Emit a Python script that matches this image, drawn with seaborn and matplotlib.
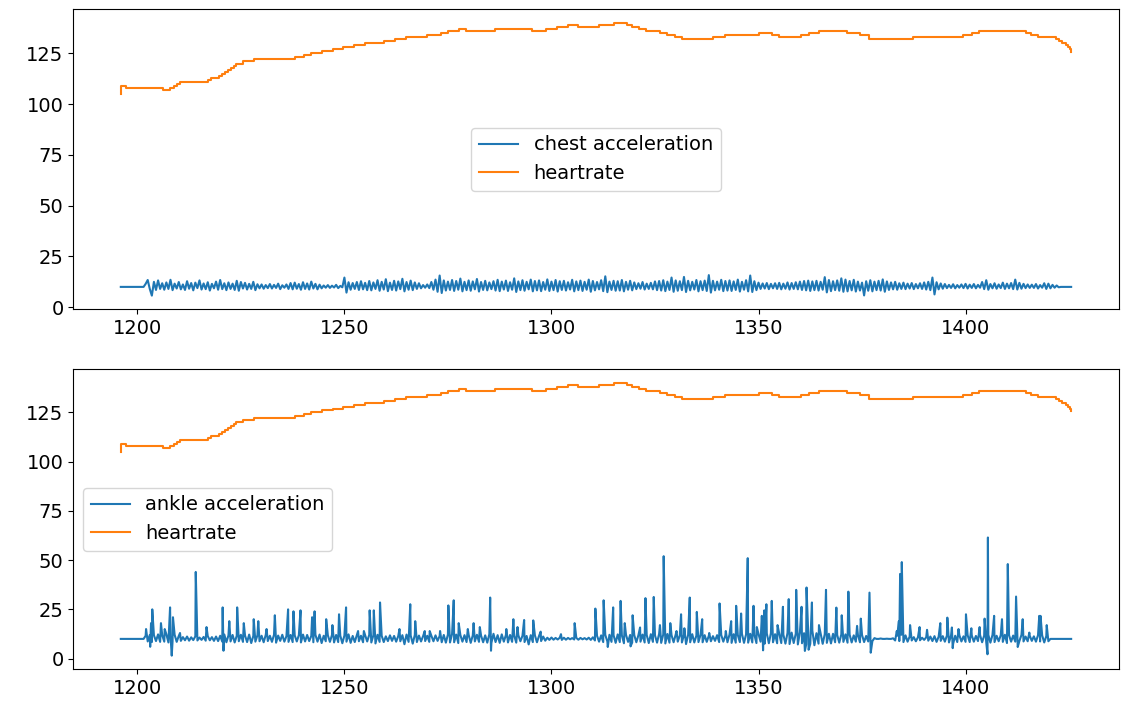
import numpy as np
import pandas as pd
import matplotlib
matplotlib.use("Agg")
import matplotlib.pyplot as plt
import seaborn as sns


# sample grid of the acceleration recordings (one value every 0.5 s)
start_time = 1196.0
sample_step = 0.5

# chest acceleration
chest_acc = [
    10, 10, 10, 10, 10, 10, 10, 10, 10, 10, 10, 10, 11.5, 13.4, 9, 5.7, 12.5, 8.5, 13.2, 9,
    11.8, 8.6, 12.2, 9.0, 13.5, 8.4, 11.6, 9.2, 12.4, 8.8, 11.2, 8.5, 12.8, 9.1, 11.9, 8.3, 12.1, 9.4, 13.2, 8.7,
    11.7, 8.9, 12.3, 8.2, 11.5, 9.3, 12.6, 8.6, 13.4, 8.9, 11.8, 8.4, 12.2, 9.0, 11.6, 8.5, 13.0, 8.1, 12.4, 9.2,
    12.0, 8.7, 11.5, 9.0, 12.5, 8.4, 11.3, 9.3, 11.2, 9.1, 10.9, 9.4, 11.4, 9.2, 11.0, 9.5, 11.6, 8.9, 10.8, 9.6,
    11.2, 9.0, 11.9, 8.8, 12.1, 9.1, 11.4, 8.6, 12.3, 9.0, 11.7, 8.7, 12.6, 9.2, 11.5, 8.8, 11.1, 9.3, 10.7, 9.6,
    10.9, 9.5, 10.6, 9.7, 11.0, 9.4, 10.5, 9.8, 14.6, 7.2, 12.3, 8.6, 11.9, 9.0, 12.4, 8.5, 12.8, 8.8, 12.0, 8.4,
    12.9, 8.3, 12.2, 9.0, 13.3, 8.1, 12.5, 8.7, 13.8, 7.9, 12.1, 8.5, 13.0, 8.2, 12.7, 8.9, 14.0, 7.8, 12.4, 8.6,
    13.1, 8.4, 12.2, 9.0, 11.8, 9.3, 10.9, 9.6, 11.2, 9.4, 12.4, 8.6, 13.6, 7.6, 15.6, 7.0, 13.2, 8.2, 12.6, 8.5,
    13.4, 8.0, 12.9, 8.6, 14.1, 7.8, 12.5, 8.4, 13.2, 8.1, 12.7, 8.8, 13.9, 7.7, 12.4, 8.5, 13.0, 8.3, 12.2, 8.9,
    12.8, 8.2, 13.5, 7.9, 12.6, 8.7, 13.1, 8.0, 12.3, 8.6, 14.2, 7.5, 12.7, 8.4, 13.3, 8.1, 12.5, 8.8, 13.6, 7.8,
    12.9, 8.3, 13.2, 7.9, 12.4, 8.6, 13.7, 8.0, 12.6, 8.4, 13.4, 7.7, 12.8, 8.5, 13.0, 8.2, 12.3, 8.7, 13.5, 7.8,
    12.7, 8.4, 13.1, 8.0, 12.5, 8.6, 13.6, 7.6, 12.9, 8.3, 12.4, 8.8, 13.3, 7.9, 15.2, 7.4, 12.6, 8.5, 13.0, 8.1,
    12.8, 8.2, 13.4, 7.8, 12.5, 8.6, 13.0, 8.3, 12.2, 8.9, 11.8, 9.1, 12.4, 8.7, 11.6, 9.0, 12.0, 8.8, 12.7, 8.4,
    12.9, 8.2, 13.3, 7.9, 12.6, 8.5, 14.6, 7.6, 13.2, 8.1, 12.8, 8.4, 14.9, 7.5, 13.0, 8.3, 12.5, 8.7, 13.4, 7.8,
    12.8, 8.4, 13.1, 8.0, 15.8, 7.2, 13.0, 8.3, 12.6, 8.6, 13.5, 7.9, 12.9, 8.2, 13.2, 8.0, 12.7, 8.5, 13.6, 7.7,
    12.5, 8.6, 13.3, 7.8, 15.6, 7.5, 12.8, 8.4, 12.1, 9.0, 11.7, 9.2, 11.9, 8.9, 11.5, 9.3, 11.8, 9.0, 12.0, 8.8,
    11.6, 9.1, 12.2, 8.7, 11.9, 9.0, 12.3, 8.8, 12.6, 8.5, 12.9, 8.3, 13.1, 8.0, 12.7, 8.4, 13.0, 8.2, 12.5, 8.6,
    14.8, 7.3, 13.4, 7.9, 12.8, 8.4, 13.2, 8.1, 14.2, 7.6, 13.6, 7.8, 12.9, 8.3, 13.5, 7.7, 12.6, 8.2, 12.1, 5.8,
    12.8, 8.1, 13.3, 7.8, 12.6, 8.4, 13.0, 8.2, 13.7, 7.6, 12.7, 8.5, 12.2, 8.8, 12.5, 8.6, 11.8, 9.0, 12.1, 8.9,
    11.6, 9.2, 11.9, 8.9, 11.4, 9.3, 11.8, 9.0, 12.2, 8.7, 12.5, 8.4, 14.6, 6.3, 12.3, 8.8, 11.7, 9.1, 11.4, 9.4,
    11.0, 9.5, 11.3, 9.3, 10.9, 9.6, 11.2, 9.4, 11.5, 9.2, 11.1, 9.5, 11.4, 9.3, 11.0, 9.6, 12.4, 8.9, 13.3, 8.6,
    11.4, 9.3, 11.8, 9.1, 11.2, 9.4, 12.1, 9.0, 11.6, 9.3, 11.9, 8.9, 13.6, 8.7, 12.0, 9.1, 11.5, 9.4, 11.2, 9.5,
    11.1, 9.5, 11.4, 9.2, 10.9, 9.6, 11.8, 9.0, 11.6, 9.3, 11.0, 9.6, 10.7, 9.8, 10, 10, 10, 10, 10, 10,
]

# ankle acceleration: background jitter on the same 0.5 s grid ...
ankle_base = [
    10, 10, 10, 10, 10, 10, 10, 10, 10, 10, 10, 10, 11.6, 8.7, 12.0, 8.4, 11.8, 8.9, 12.3, 8.5,
    11.9, 8.6, 12.4, 8.2, 11.7, 8.8, 12.1, 8.5, 11.5, 9.0, 10.9, 9.3, 11.2, 9.1, 10.8, 9.4, 11.3, 9.2, 10.7, 9.5,
    11.0, 9.1, 11.4, 9.3, 10.9, 9.0, 11.2, 8.9, 11.6, 8.6, 12.2, 8.3, 11.8, 8.7, 12.0, 8.2, 11.6, 8.8, 12.1, 8.5,
    11.7, 8.4, 12.2, 7.9, 11.5, 8.6, 11.9, 8.8, 11.6, 8.3, 12.0, 8.9, 11.6, 8.5, 12.1, 8.1, 11.7, 9.0, 12.1, 8.6,
    11.4, 8.5, 12.0, 8.4, 11.8, 8.7, 11.9, 8.2, 12.2, 8.7, 12.0, 8.9, 11.5, 8.3, 12.1, 8.6, 12.2, 7.9, 11.6, 8.8,
    11.8, 8.5, 12.0, 8.2, 12.0, 8.4, 11.7, 7.8, 11.7, 8.6, 12.3, 8.0, 11.5, 8.4, 11.9, 8.8, 11.6, 8.3, 11.9, 8.7,
    12.1, 8.2, 11.9, 7.7, 12.1, 8.5, 11.6, 8.4, 11.3, 8.9, 11.8, 9.0, 11.5, 8.6, 11.4, 8.8, 11.9, 7.3, 12.2, 8.5,
    11.8, 7.6, 12.0, 8.4, 11.7, 8.7, 11.4, 8.9, 11.6, 8.5, 11.6, 8.8, 11.8, 9.0, 11.5, 8.3, 12.0, 8.1, 12.3, 8.2,
    12.5, 8.3, 12.2, 7.9, 12.0, 8.6, 11.9, 8.4, 12.1, 8.0, 11.8, 8.7, 12.1, 8.5, 11.7, 8.3, 11.8, 8.1, 12.4, 8.0,
    12.6, 8.4, 11.9, 8.0, 12.3, 8.6, 12.0, 8.2, 12.0, 8.5, 11.7, 8.1, 11.9, 8.8, 11.6, 8.4, 11.5, 7.2, 11.9, 8.4,
    11.8, 8.3, 11.5, 8.9, 11.2, 9.1, 10.6, 9.5, 10.7, 9.6, 10.5, 9.7, 10.6, 9.5, 10.6, 9.6, 10.5, 9.8, 10.4, 9.7,
    10.5, 9.6, 10.5, 9.8, 10.4, 9.7, 10.6, 9.5, 10.8, 9.2, 11.6, 8.6, 11.8, 8.4, 12.0, 8.7, 12.1, 8.5, 11.9, 8.0,
    12.3, 8.4, 11.8, 7.8, 12.1, 8.5, 12.0, 8.2, 11.9, 8.3, 11.9, 8.6, 12.2, 8.2, 12.0, 7.9, 12.4, 8.5, 11.8, 8.1,
    12.6, 8.0, 12.3, 7.7, 12.5, 8.1, 11.9, 8.3, 12.2, 8.6, 11.8, 8.2, 12.0, 7.4, 12.0, 8.3, 12.4, 8.2, 11.7, 8.4,
    12.1, 8.3, 11.9, 8.5, 11.6, 8.8, 11.4, 9.0, 11.9, 8.4, 12.0, 8.6, 11.7, 8.3, 12.2, 8.0, 12.4, 8.1, 12.0, 8.4,
    12.6, 8.0, 12.3, 8.1, 12.6, 8.2, 12.1, 7.9, 12.5, 8.6, 12.4, 7.6, 12.8, 7.8, 13.0, 8.3, 12.4, 7.8, 12.7, 7.9,
    12.2, 7.6, 13.0, 7.4, 13.2, 7.9, 12.7, 7.2, 13.4, 7.8, 12.9, 7.1, 13.3, 7.5, 14.2, 6.8, 12.9, 7.6, 12.7, 7.5,
    12.4, 8.0, 12.6, 7.7, 12.6, 8.3, 12.0, 8.1, 12.3, 8.5, 12.3, 8.1, 12.2, 8.2, 11.8, 8.6, 12.1, 8.3, 12.0, 8.4,
    11.5, 8.7, 11.9, 8.9, 10.4, 10.0, 10.0, 10.2, 10.0, 10.0, 10.1, 10.0, 10.0, 10.3, 9.2, 11.6, 8.9, 12.1, 8.4, 11.8,
    8.6, 11.2, 9.2, 10.9, 8.8, 10.8, 9.3, 10.6, 9.5, 10.8, 9.1, 11.2, 8.9, 11.4, 8.5, 11.1, 9.0, 11.4, 8.6, 11.7,
    8.2, 11.8, 7.5, 11.6, 8.4, 11.9, 8.7, 11.3, 8.5, 11.9, 8.4, 11.8, 8.6, 11.5, 8.9, 12.0, 8.3, 11.7, 8.2, 12.1,
    8.1, 12.0, 8.4, 11.6, 8.8, 11.9, 8.5, 12.1, 7.9, 11.9, 8.6, 11.7, 8.6, 11.4, 8.9, 12.0, 8.7, 11.2, 8.8, 11.6,
    9.0, 11.3, 8.6, 11.9, 8.7, 11.8, 8.2, 11.4, 8.8, 10, 10, 10, 10, 10, 10, 10, 10, 10, 10, 10,
]

# ... plus the short spikes and dips (time, value)
spike_time = [
    1202.1, 1203.1, 1203.3, 1203.6, 1205.7, 1206.6, 1207.9, 1208.3, 1208.6, 1210.3,
    1214.1, 1216.7, 1220.6, 1220.8, 1222.2, 1224.1, 1225.7, 1228.1, 1229.2, 1231.2,
    1233.2, 1236.4, 1237.7, 1239.4, 1242.2, 1242.8, 1245.6, 1247.1, 1248.7, 1250.4,
    1253.3, 1254.7, 1256.1, 1257.1, 1258.6, 1263.3, 1265.9, 1267.1, 1269.4, 1270.6,
    1273.1, 1275.1, 1276.4, 1277.6, 1279.8, 1281.2, 1282.7, 1285.2, 1285.4, 1289.1,
    1290.8, 1291.8, 1293.4, 1295.6, 1297.4, 1302.3, 1305.6, 1310.6, 1312.6, 1313.6,
    1314.9, 1316.7, 1317.7, 1319.1, 1319.6, 1321.4, 1322.7, 1324.7, 1326.2, 1327.1,
    1328.7, 1330.2, 1331.3, 1332.1, 1333.4, 1335.1, 1336.4, 1338.1, 1340.6, 1342.1,
    1343.4, 1344.6, 1345.8, 1347.4, 1348.8, 1349.6, 1350.8, 1351.1, 1351.4, 1351.9,
    1353.2, 1354.6, 1355.9, 1357.3, 1359.1, 1360.4, 1361.2, 1361.6, 1362.1, 1362.9,
    1364.6, 1366.3, 1368.8, 1370.1, 1371.7, 1373.8, 1374.7, 1376.8, 1377.1, 1383.4,
    1383.9, 1384.2, 1384.6, 1386.6, 1388.9, 1390.7, 1393.9, 1395.6, 1396.7, 1396.9,
    1398.3, 1400.1, 1401.4, 1403.4, 1404.6, 1405.3, 1405.4, 1406.9, 1408.8, 1410.2,
    1412.2, 1412.6, 1413.8, 1415.4, 1417.8, 1418.1, 1419.6,
]
spike_value = [
    15, 6, 18, 25, 18, 15, 26, 1.5, 21, 13,
    44, 16, 26, 4, 19, 26, 18, 20, 19, 15,
    22, 25, 24, 24.5, 21, 24, 20, 17, 22.5, 26,
    14, 14, 24.5, 24.5, 28.5, 15, 27.6, 19, 14, 14,
    14, 27, 29.6, 18, 15, 18, 16, 31, 4, 15,
    20, 16, 19.6, 19.4, 13.7, 12.4, 18, 25.4, 29.6, 5.9,
    26, 29.3, 18, 6.2, 22, 15.8, 30.7, 31.3, 17, 52,
    18, 14, 22.5, 15.4, 31, 23.7, 20, 13, 28, 14,
    19, 26.8, 22.9, 51, 26.8, 16, 21.7, 4.2, 24.5, 27.6,
    29.3, 17, 26.3, 30.2, 34.9, 26.3, 3.9, 36.1, 4.5, 28.5,
    17, 34.9, 25.9, 22, 34, 16.6, 20.3, 33.5, 3, 14,
    19, 43, 49, 17, 16, 14.6, 18, 20.8, 15.8, 5.3,
    15, 22.5, 15.4, 16, 20.3, 2.2, 61.5, 21.7, 20, 48,
    31.5, 5.9, 20, 13.2, 21.7, 21.7, 17,
]

# heartrate: time of each change and the new value (bpm)
hr_time = [
    1196.0, 1196.1, 1197.3, 1206.1, 1208.0, 1208.8, 1209.6, 1210.4, 1217.0, 1217.8,
    1219.6, 1220.4, 1221.2, 1222.0, 1222.7, 1223.3, 1223.9, 1225.6, 1228.2, 1238.1,
    1240.3, 1242.0, 1244.6, 1247.2, 1249.7, 1252.3, 1254.9, 1259.6, 1262.2, 1264.8,
    1269.9, 1273.4, 1275.1, 1277.7, 1279.4, 1286.3, 1295.4, 1298.8, 1301.4, 1304.0,
    1306.5, 1311.6, 1315.1, 1318.3, 1319.5, 1321.2, 1322.9, 1326.3, 1328.0, 1329.9,
    1331.6, 1338.9, 1341.9, 1350.0, 1353.3, 1355.0, 1360.2, 1362.3, 1364.5, 1371.4,
    1374.4, 1376.6, 1387.3, 1399.4, 1401.5, 1403.3, 1414.5, 1415.8, 1417.5, 1421.8,
    1422.6, 1423.4, 1424.2, 1424.8, 1425.2, 1425.5,
]
hr_value = [
    105, 109, 108, 107, 108, 109, 110, 111, 112, 113,
    114, 115, 116, 117, 118, 119, 120, 121, 122, 123,
    124, 125, 126, 127, 128, 129, 130, 131, 132, 133,
    134, 135, 136, 137, 136, 137, 136, 137, 138, 139,
    138, 139, 140, 139, 138, 137, 136, 135, 134, 133,
    132, 133, 134, 135, 134, 133, 134, 135, 136, 135,
    134, 132, 133, 134, 135, 136, 135, 134, 133, 132,
    131, 130, 129, 128, 127, 125.5,
]

x_ticks = [1200, 1250, 1300, 1350, 1400]
y_ticks = [0, 25, 50, 75, 100, 125]

plt.rcParams["font.size"] = 14

grid_time = start_time + sample_step * np.arange(len(chest_acc))
chest = pd.DataFrame({"time": grid_time, "acc": chest_acc})
ankle = pd.concat([pd.DataFrame({"time": grid_time, "acc": ankle_base}),
                   pd.DataFrame({"time": spike_time, "acc": spike_value})])
ankle = ankle.sort_values("time").reset_index(drop=True)
hr = pd.DataFrame({"time": hr_time, "heartrate": hr_value})

fig, (ax1, ax2) = plt.subplots(2, 1, figsize=(11.45, 7.12), dpi=100)
fig.subplots_adjust(left=0.064, right=0.977, top=0.987, bottom=0.06, hspace=0.2)

for ax, acc, name, where in [(ax1, chest, "chest acceleration", "center"),
                             (ax2, ankle, "ankle acceleration", "center left")]:
    sns.lineplot(data=acc, x="time", y="acc", ax=ax, color="#1f77b4", linewidth=1.5,
                 estimator=None, sort=False, label=name)
    sns.lineplot(data=hr, x="time", y="heartrate", ax=ax, color="#ff7f0e", linewidth=1.5,
                 estimator=None, drawstyle="steps-post", label="heartrate")
    ax.set_xticks(x_ticks)
    ax.set_yticks(y_ticks)
    ax.set_xlabel("")
    ax.set_ylabel("")
    ax.legend(loc=where, fontsize=14)

fig.savefig("out.png", dpi=100)
